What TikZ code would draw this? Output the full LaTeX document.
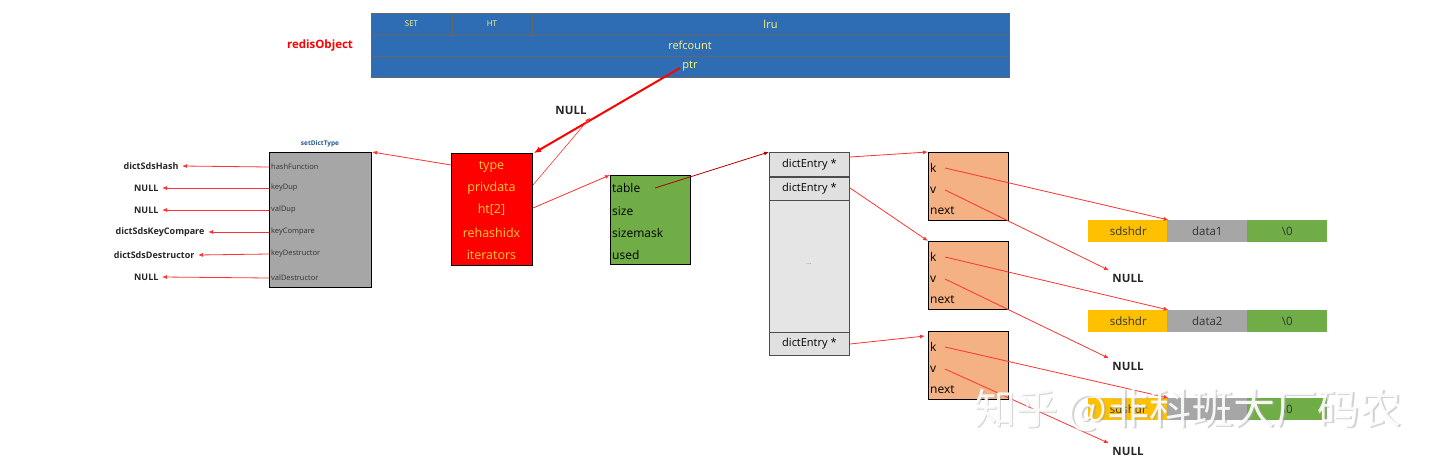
\documentclass[tikz,border=0pt]{standalone}
\usepackage{fontspec}
\setmainfont{Open Sans}
\newfontfamily\cjk{Noto Sans CJK SC}
\begin{document}
\begin{tikzpicture}[x=1pt,y=-1pt,
 arr/.style={draw=red!80,line width=0.8pt,-{Latex[length=5pt,width=4pt]}},
 cell/.style={draw=black!70,line width=0.6pt,anchor=north west,inner sep=0},
 lbl/.style={font=\fontsize{9}{10}\selectfont\bfseries,text=black!85},
 fld/.style={font=\fontsize{7.5}{8}\selectfont,text=black!80,anchor=west,inner sep=1pt},
 big/.style={font=\fontsize{12}{13}\selectfont,anchor=west,inner sep=1pt}]
\usetikzlibrary{arrows.meta}
\useasboundingbox (0,0) rectangle (1440,468);
\definecolor{rblue}{HTML}{2E6DB4}
\definecolor{rgray}{HTML}{A6A6A6}
\definecolor{rgreen}{HTML}{70AD47}
\definecolor{rorange}{HTML}{F4B183}
\definecolor{ryellow}{HTML}{FFC000}
% redisObject
\tikzset{bc/.style={cell,fill=rblue,draw=black!60,line width=0.8pt,font=\fontsize{11}{12}\selectfont,text=yellow!50!white,anchor=center}}
\node[bc,minimum width=81,minimum height=22] (set) at (411.5,24) {\fontsize{8}{9}\selectfont SET};
\node[bc,minimum width=80,minimum height=22] (ht) at (492,24) {\fontsize{8}{9}\selectfont HT};
\node[bc,minimum width=477,minimum height=22] (lru) at (770.5,24) {lru};
\node[bc,minimum width=638,minimum height=21] (ref) at (690,45.5) {refcount};
\node[bc,minimum width=638,minimum height=21] (ptr) at (690,66.5) {ptr};
\node[font=\fontsize{11.5}{12}\selectfont\bfseries,text=red] (ro) at (320,46) {redisObject};
% setDictType
\node[cell,fill=rgray,draw=black,line width=1pt,minimum width=102,minimum height=135] (sdt) at (269,152) {};
\node[font=\fontsize{6.5}{7}\selectfont\bfseries,text=rblue!80!black] (sdtt) at (320,144) {setDictType};
\foreach \n/\t/\y in {f1/hashFunction/167,f2/keyDup/188,f3/valDup/210,f4/keyCompare/232,f5/keyDestructor/254,f6/valDestructor/278}{
 \node[fld] (\n) at (270,\y) {\t};
 \coordinate (\n e) at (269,\y);
}
\node[lbl,anchor=east] (l1) at (182,166) {dictSdsHash};
\node[lbl,anchor=east] (l2) at (162,188) {NULL};
\node[lbl,anchor=east] (l3) at (162,210) {NULL};
\node[lbl,anchor=east] (l4) at (208,232) {dictSdsKeyCompare};
\node[lbl,anchor=east] (l5) at (198,255) {dictSdsDestructor};
\node[lbl,anchor=east] (l6) at (162,277) {NULL};
\foreach \i in {1,...,6}{\draw[arr] (f\i e) -- (l\i.east);}
% dict
\node[cell,fill=red,draw=black,line width=1.2pt,minimum width=81,minimum height=112] (dict) at (451,153) {};
\foreach \t/\y in {type/167,privdata/188,ht[2]/210,rehashidx/233,iterators/255}{
 \node[font=\fontsize{12.5}{13}\selectfont,text=ryellow!80!white,inner sep=0] at (491.5,\y) {\t};}
\coordinate (ptrs) at (680,68);
\coordinate (dtr) at (534,153);
\draw[draw=red,line width=2pt,-{Latex[length=7pt,width=6pt]}] (ptrs) -- (dtr);
\node[lbl,font=\fontsize{11.5}{12}\selectfont\bfseries] (null0) at (571,110) {NULL};
\coordinate (pd) at (533,185);
\draw[arr,line width=0.6pt] (pd) -- (null0.south east);
\coordinate (dl) at (451,165);
\draw[arr] (dl) -- (sdt.north east);
% dictht
\node[cell,fill=rgreen,draw=black,line width=1pt,minimum width=80,minimum height=89] (dht) at (610,175) {};
\foreach \t/\y in {table/188,size/211,sizemask/233,used/255}{\node[big] at (611,\y) {\t};}
\coordinate (h2) at (533,208);
\draw[arr] (h2) -- (dht.north west);
% table
\tikzset{de/.style={cell,fill=black!12,draw=black!70,line width=0.8pt,minimum width=80,font=\fontsize{11}{12}\selectfont,anchor=west,inner sep=1pt}}
\node[de,minimum height=24,anchor=north west] (e1) at (769,152) {dictEntry *\hspace{8pt}};
\node[de,minimum height=23,anchor=north west] (e2) at (769,177) {dictEntry *\hspace{8pt}};
\node[cell,fill=black!10,draw=black!70,line width=0.8pt,minimum width=80,minimum height=132] (dots) at (769,200) {};
\node[font=\scriptsize,text=black!50] at (809,264) {...};
\node[de,minimum height=23,anchor=north west] (e3) at (769,332) {dictEntry *\hspace{8pt}};
\coordinate (tb) at (655,188);
\draw[draw=red!70!black,line width=0.8pt,-{Latex[length=5pt,width=4pt]}] (tb) -- (e1.north west);
% entries
\foreach \i/\y in {1/152,2/241,3/331}{
 \node[cell,fill=rorange,draw=black,line width=1.2pt,minimum width=80,minimum height=68] (n\i) at (928,\y) {};
 \node[big] (k\i) at (929,\y+16) {k};
 \node[big] (v\i) at (929,\y+38) {v};
 \node[big] (x\i) at (929,\y+59) {next};
 \coordinate (kp\i) at (945,\y+16);
 \coordinate (vp\i) at (945,\y+38);
}
\coordinate (e1r) at (850,157);\coordinate (e2r) at (850,188);\coordinate (e3r) at (850,344);
\draw[arr] (e1r) -- (n1.north west);
\draw[arr] (e2r) -- (n2.north west);
\draw[arr] (e3r) -- (925,336);
% sds
\tikzset{sd/.style={cell,draw=none,minimum width=80,minimum height=22,font=\fontsize{11.5}{12}\selectfont,text=black!80,anchor=north west,inner sep=0}}
\foreach \i/\y/\d/\s/\z in {1/220/data1/sdshdr/\textbackslash 0,2/310/data2/sdshdr/\textbackslash 0,3/398//sdshdr/\textbackslash 0}{
 \node[sd,fill=ryellow] (s\i) at (1088,\y) {\makebox[80pt]{\s}};
 \node[sd,fill=rgray] (d\i) at (1167,\y) {\makebox[80pt]{\d}};
 \node[sd,fill=rgreen] (z\i) at (1247,\y) {\makebox[80pt]{\z}};
 \draw[arr] (kp\i) -- (s\i.north east);
}
\node[lbl,font=\fontsize{11.5}{12}\selectfont\bfseries] (nl1) at (1128,278) {NULL};
\node[lbl,font=\fontsize{11.5}{12}\selectfont\bfseries] (nl2) at (1128,366) {NULL};
\node[lbl,font=\fontsize{11.5}{12}\selectfont\bfseries] (nl3) at (1128,451) {NULL};
\foreach \i in {1,2,3}{\draw[arr] (vp\i) -- (nl\i.north west);}
% watermark
\node[font=\cjk\fontsize{42}{44}\selectfont,text=black!35,opacity=0.5] (wms) at (1189.5,411.5) {知乎 @非科班大厂码农};
\node[font=\cjk\fontsize{42}{44}\selectfont,text=white,opacity=0.9] (wm) at (1188,410) {知乎 @非科班大厂码农};
\end{tikzpicture}
\end{document}
